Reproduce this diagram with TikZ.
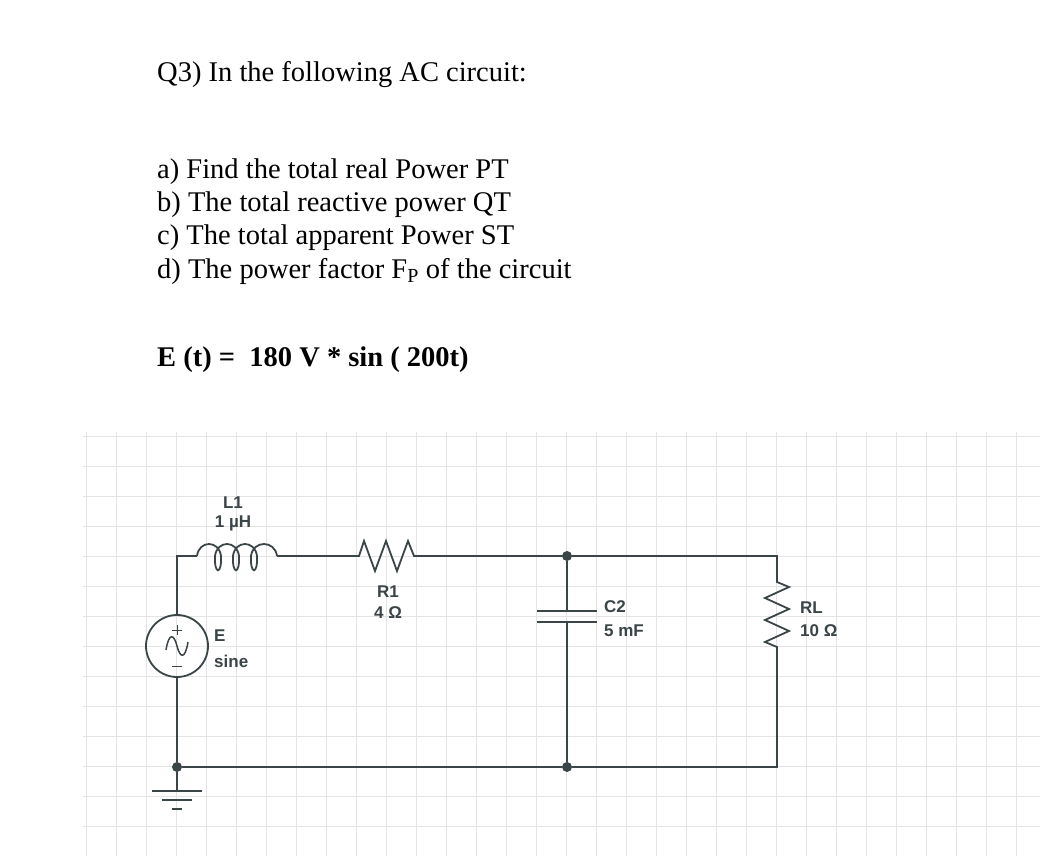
\documentclass[tikz,border=0pt]{standalone}
\usepackage{fontspec}
\setmainfont{Liberation Serif}
\newfontfamily\lsans{Liberation Sans}
\definecolor{wire}{HTML}{3B4548}
\definecolor{gridc}{HTML}{E4E4E4}
\begin{document}
\begin{tikzpicture}[x=1pt,y=-1pt,
  w/.style={draw=wire,line width=1.8pt},
  lab/.style={font=\lsans\bfseries\fontsize{17}{19}\selectfont,text=wire,inner sep=0pt},
  q/.style={font=\fontsize{28.5}{32}\selectfont,anchor=west,inner sep=0pt},
  dot/.style={circle,fill=wire,inner sep=0pt,minimum size=10pt}]
\useasboundingbox (0,0) rectangle (1044,856);
\fill[white] (0,0) rectangle (1044,856);
% grid
\foreach \x in {86.7,116.7,...,1040} \draw[gridc,line width=1pt] (\x,432) -- (\x,856);
\foreach \y in {436,466,...,856} \draw[gridc,line width=1pt] (83,\y) -- (1040,\y);
% texts
\node[q] (t1) at (157,75) {Q3) In the following AC circuit:};
\node[q] (t2) at (157,172) {a) Find the total real Power PT};
\node[q] (t3) at (157,205) {b) The total reactive power QT};
\node[q] (t4) at (157,238) {c) The total apparent Power ST};
\node[q] (t5) at (157,271) {d) The power factor F\textsubscript{P} of the circuit};
\node[q,font=\bfseries\fontsize{28.5}{32}\selectfont] (t6) at (157,360) {E (t) =\ \ 180 V * sin ( 200t)};
% coordinates
\coordinate (tl) at (177,556);
\coordinate (Ls) at (197,556);
\coordinate (Le) at (277,556);
\coordinate (Rs) at (353,556);
\coordinate (Re) at (420,556);
\node[dot] (nt) at (567,556) {};
\coordinate (tr) at (777,556);
\node[dot] (nb) at (567,767) {};
\node[dot] (gb) at (177,767) {};
\coordinate (br) at (777,767);
\node[circle,w,minimum size=62pt,inner sep=0pt] (src) at (177,646) {};
\coordinate (c1) at (567,611);
\coordinate (c2) at (567,622);
\coordinate (rl1) at (777,582);
\coordinate (rl2) at (777,650);
\coordinate (g) at (177,791);
% wires
\draw[w] (src.north) -- (tl) -- (Ls);
\draw[w] (Ls) .. controls (199,540) and (219,540) .. (221,556)
  .. controls (222,575) and (214,575) .. (215,556)
  .. controls (217,540) and (237,540) .. (239,556)
  .. controls (240,575) and (232,575) .. (233,556)
  .. controls (235,540) and (255,540) .. (257,556)
  .. controls (258,575) and (250,575) .. (251,556)
  .. controls (253,540) and (275,540) .. (Le);
\draw[w] (Le) -- (Rs) -- (359,556) -- (364,541) -- (375,571) -- (386,541) -- (397,571) -- (408,541) -- (414,556) -- (Re) -- (nt) -- (tr) -- (rl1)
  -- (789,587) -- (765,598) -- (789,609) -- (765,620) -- (789,631) -- (765,642) -- (777,647) -- (rl2) -- (br) -- (nb) -- (gb) -- (src.south);
\draw[w] (nt) -- (c1); \draw[w] (c2) -- (nb);
\draw[w] (537,611) -- (597,611); \draw[w] (537,622) -- (597,622);
\draw[w] (gb) -- (g);
\draw[w] (152,791) -- (202,791);
\draw[w] (162,800) -- (192,800);
\draw[w] (172,809) -- (182,809);
% source interior
\draw[wire,line width=1pt] (172,630) -- (182,630) (177,625) -- (177,635);
\draw[wire,line width=1pt] (172,666) -- (182,666);
\draw[wire,line width=1.5pt] (166,650) .. controls (169,632) and (174,634) .. (177,646) .. controls (180,658) and (185,660) .. (188,642);
% labels
\node[lab] (l1) at (233,503) {L1};
\node[lab] (l1v) at (233,523) {1 µH};
\node[lab] (r1) at (388,592) {R1};
\node[lab] (r1v) at (388,613) {4 Ω};
\node[lab,anchor=west] (e1) at (214,636) {E};
\node[lab,anchor=west] (e2) at (214,661) {sine};
\node[lab,anchor=west] (cl) at (604,607) {C2};
\node[lab,anchor=west] (cv) at (604,631) {5 mF};
\node[lab,anchor=west] (rl) at (800,608) {RL};
\node[lab,anchor=west] (rlv) at (800,631) {10 Ω};
\end{tikzpicture}
\end{document}
